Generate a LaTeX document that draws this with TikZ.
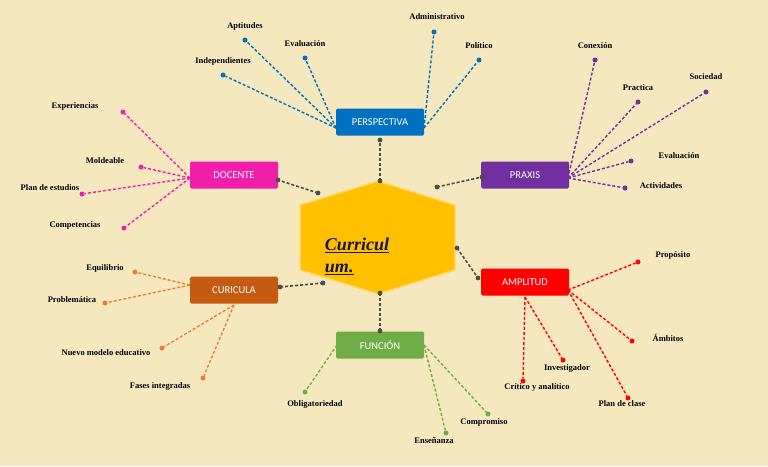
\documentclass[tikz,border=0pt]{standalone}
\usepackage{fontspec}
\setmainfont{Liberation Serif}
\newfontfamily\carlitofont{Carlito}
\begin{document}
\begin{tikzpicture}[x=1pt,y=-1pt,
 bx/.style={rectangle,rounded corners=1.5pt,minimum width=88pt,minimum height=27pt,text=white,font=\carlitofont\fontsize{10.5}{10.5}\selectfont},
 lf/.style={font=\bfseries\fontsize{8.5}{8.5}\selectfont,inner sep=1pt},
 con/.style={densely dashed,line width=1.6pt,draw=black!70},
 dt/.style={circle,fill,inner sep=0pt,minimum size=5pt},
 lk/.style={densely dashed,line width=1.4pt}]
\definecolor{bg}{RGB}{246,232,190}
\fill[bg] (0,0) rectangle (768,466);
\useasboundingbox (0,0) rectangle (768,466);
\definecolor{cblue}{RGB}{0,112,192}\definecolor{cpur}{RGB}{112,48,160}
\definecolor{cred}{RGB}{255,0,0}\definecolor{cgreen}{RGB}{112,173,71}
\definecolor{corange}{RGB}{197,90,17}\definecolor{cmag}{RGB}{240,30,170}
\definecolor{lorange}{RGB}{237,125,49}
% hexagon
\filldraw[fill={rgb,255:red,255;green,192;blue,0},draw={rgb,255:red,255;green,217;blue,102},line width=1.5pt]
 (378,181)--(455,205)--(455,270)--(378,294)--(300,270)--(300,205)--cycle;
\node[font=\bfseries\itshape\fontsize{18}{22}\selectfont,align=left,text={rgb,255:red,20;green,20;blue,60}] (c) at (357,256) {\underline{Curricul}\\\underline{um.}};
\coordinate (c1) at (380,181);\coordinate (c2) at (437,187);\coordinate (c3) at (457,248);
\coordinate (c4) at (380,293);\coordinate (c5) at (323,283);\coordinate (c6) at (318,193);
% boxes
\node[bx,fill=cblue] (pe) at (380,122) {PERSPECTIVA};
\node[bx,fill=cpur] (pr) at (525,175) {PRAXIS};
\node[bx,fill=cred] (am) at (525,282) {AMPLITUD};
\node[bx,fill=cgreen] (fu) at (380,345) {FUNCIÓN};
\node[bx,fill=corange] (cu) at (234,290) {CURICULA};
\node[bx,fill=cmag] (do) at (234,175) {DOCENTE};
% hub connectors
\coordinate (p1) at (380,140);\coordinate (p2) at (482,177);\coordinate (p3) at (478,278);
\coordinate (p4) at (380,331);\coordinate (p5) at (280,287);\coordinate (p6) at (278,180);
\foreach \a/\b in {c1/p1,c2/p2,c3/p3,c4/p4,c5/p5,c6/p6}{\draw[con] (\a)--(\b);
 \fill[black!70] (\a) circle (2.4pt) (\b) circle (2.4pt);}
% leaves
\newcommand\leaf[6]{%
 \node[dt,fill=#1] (#3) at (#4) {};
 \draw[lk,draw=#1] (#2)--(#3);
 \node[lf] at (#5) {#6};}
\coordinate (peL) at (336,128);\coordinate (peR) at (424,128);
\leaf{cblue}{peL}{a1}{245,40}{245,26}{Aptitudes}
\leaf{cblue}{peL}{a2}{305,58}{305,44}{Evaluación}
\leaf{cblue}{peL}{a3}{223,75}{223,61}{Independientes}
\leaf{cblue}{peR}{a4}{434,32}{437,17}{Administrativo}
\leaf{cblue}{peR}{a5}{479,60}{479,46}{Político}
\coordinate (prL) at (568,178);
\leaf{cpur}{prL}{b1}{595,60}{595,46}{Conexión}
\leaf{cpur}{prL}{b2}{638,102}{638,88}{Practica}
\leaf{cpur}{prL}{b3}{706,92}{706,77}{Sociedad}
\leaf{cpur}{prL}{b4}{631,161}{679,156}{Evaluación}
\leaf{cpur}{prL}{b5}{625,188}{661,186}{Actividades}
\coordinate (doL) at (190,178);
\leaf{cmag}{doL}{d1}{123,112}{75,106}{Experiencias}
\leaf{cmag}{doL}{d2}{141,167}{105,161}{Moldeable}
\leaf{cmag}{doL}{d3}{82,194}{50,188}{Plan de estudios}
\leaf{cmag}{doL}{d4}{124,228}{75,225}{Competencias}
\coordinate (cuL) at (190,285);\coordinate (cuB) at (234,305);
\leaf{lorange}{cuL}{e1}{135,272}{105,268}{Equilibrio}
\leaf{lorange}{cuL}{e2}{105,303}{72,300}{Problemática}
\leaf{lorange}{cuB}{e3}{162,348}{106,353}{Nuevo modelo educativo}
\leaf{lorange}{cuB}{e4}{203,378}{160,386}{Fases integradas}
\coordinate (amR) at (568,290);\coordinate (amB) at (525,297);
\leaf{cred}{amR}{f1}{638,262}{673,255}{Propósito}
\leaf{cred}{amR}{f2}{632,341}{668,338}{Ámbitos}
\leaf{cred}{amR}{f3}{628,398}{622,404}{Plan de clase}
\leaf{cred}{amB}{f4}{563,360}{567,368}{Investigador}
\leaf{cred}{amB}{f5}{523,381}{537,387}{Crítico y analítico}
\coordinate (fuL) at (337,345);\coordinate (fuR) at (424,345);
\leaf{cgreen}{fuL}{g1}{305,392}{315,404}{Obligatoriedad}
\leaf{cgreen}{fuR}{g2}{488,414}{484,422}{Compromiso}
\leaf{cgreen}{fuR}{g3}{446,433}{434,441}{Enseñanza}
\end{tikzpicture}
\end{document}
